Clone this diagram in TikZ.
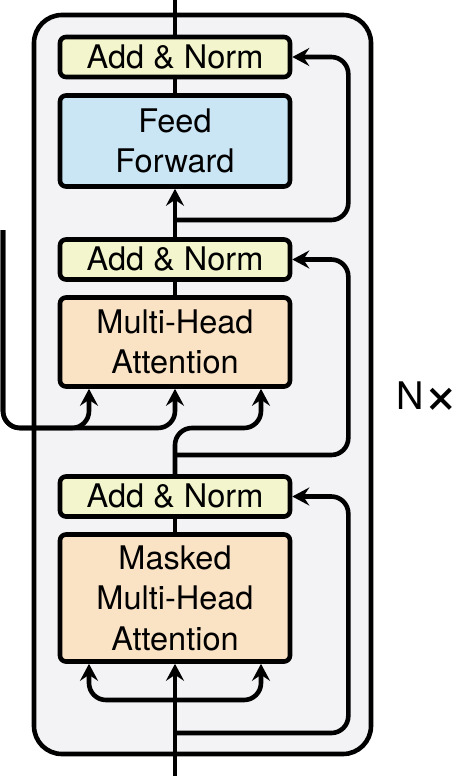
\documentclass[tikz,border=0pt]{standalone}
\usepackage{fontspec}
\setmainfont{TeX Gyre Heros}
\usetikzlibrary{arrows.meta,calc}

\definecolor{normyellow}{RGB}{243,245,204}
\definecolor{ffblue}{RGB}{202,229,244}
\definecolor{attnorange}{RGB}{250,226,196}
\definecolor{layergray}{RGB}{243,243,246}

\begin{document}
\begin{tikzpicture}
  [x=1pt,y=-1pt,line width=4.6pt,line join=round,
   every node/.style={draw,rounded corners=6pt,minimum width=230pt,inner sep=0pt,
     align=center,font=\fontsize{32.5}{40.5}\selectfont},
   norm/.style={fill=normyellow,minimum height=40pt},
   ffbox/.style={fill=ffblue,minimum height=91pt},
   attn/.style={fill=attnorange,minimum height=89pt},
   arr/.style={-{Stealth[length=17pt,width=18pt,inset=6pt]}},
   rc/.style={rounded corners=17pt}]
  \fill[white] (0,0) rectangle (474,776);
  \useasboundingbox (0,0) rectangle (474,776);

  % the layer
  \draw[fill=layergray,rounded corners=28pt] (34,15) rectangle (371,754);

  \node[norm] (an3) at (175,57) {Add \& Norm};
  \node[ffbox] (ff) at (175,141) {Feed\\Forward};
  \node[norm] (an2) at (175,259.5) {Add \& Norm};
  \node[attn] (mha) at (175,342) {Multi-Head\\Attention};
  \node[norm] (an1) at (175,496.5) {Add \& Norm};
  \node[attn,minimum height=127pt] (mmha) at (175,598) {Masked\\Multi-Head\\Attention};
  \node[draw=none,minimum width=0pt,font=\fontsize{38}{40}\selectfont] (nx) at (428,398)
    {N\raisebox{-5pt}{\scalebox{1.6}{×}}};

  \coordinate (top) at (175,0);
  \coordinate (bot) at (175,776);
  \coordinate (enc) at (3,230);
  \coordinate (r3) at (175,220);
  \coordinate (r2) at (175,455);
  \coordinate (r1) at (175,733);
  \coordinate (mj) at (175,428);
  \coordinate (mb) at (175,700);
  \coordinate (mk) at ([xshift=-86pt]mha.south);
  \coordinate (mv) at ([xshift=86pt]mha.south);

  \foreach \from/\to in {an3.north/top,ff.north/an3.south,mha.north/an2.south,mmha.north/an1.south}
    \draw (\from) -- (\to);
  \draw[arr] (an2.north) -- (ff.south);
  \draw[arr] (bot) -- (mmha.south);

  % residual paths
  \foreach \from/\to in {r3/an3,r2/an2,r1/an1}
    \draw[arr,rc] (\from) -| ($(\to.east)+(56,0)$) -- (\to.east);

  % inputs of the masked attention
  \draw[arr,rc] (mb) -| ([xshift=-86pt]mmha.south);
  \draw[arr,rc] (mb) -| ([xshift=86pt]mmha.south);

  % inputs of the attention
  \draw[arr,rc] (enc) |- (mj) -- (mha.south);
  \draw[arr,rc] (enc) |- (mk |- mj) -- (mk);
  \draw[arr,rc] (an1.north) |- (mv |- mj) -- (mv);
\end{tikzpicture}
\end{document}
